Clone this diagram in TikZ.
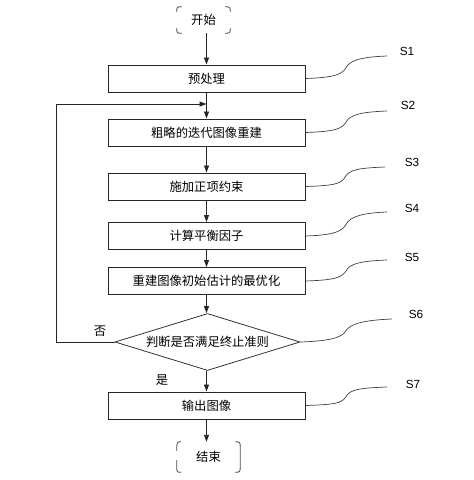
\documentclass[tikz,border=0pt]{standalone}
\usepackage{fontspec}
\setmainfont{Liberation Sans}
\newfontfamily\cjk{Noto Sans CJK SC}
\usetikzlibrary{arrows.meta,shapes.geometric,calc}
\newcommand{\squigline}[2]{\draw[squig] (#1) .. controls +(30,-1) and +(-4,7) .. ($(#1)!0.5!(#2)$) .. controls +(4,-7) and +(-26,1) .. (#2);}
\begin{document}
\begin{tikzpicture}[x=1pt,y=-1pt,
 stepbox/.style={draw=black!85, line width=1pt, minimum width=197pt, minimum height=27pt, inner sep=0pt, font=\cjk\fontsize{12.3}{13}\selectfont},
 term/.style={draw=none, inner sep=0pt, font=\cjk\fontsize{12.3}{13}\selectfont},
 termline/.style={draw=black!70, line width=0.8pt},
 dia/.style={draw=black!80, line width=0.8pt, shape=diamond, aspect=3.25, minimum width=185pt, minimum height=57pt, inner sep=0pt, font=\cjk\fontsize{12.3}{13}\selectfont},
 arr/.style={-{Triangle[length=7pt,width=5pt]}, line width=0.9pt, draw=black!85},
 lbl/.style={font=\fontsize{11.8}{12}\selectfont, inner sep=0pt},
 cjklbl/.style={font=\cjk\fontsize{12.3}{13}\selectfont, inner sep=0pt},
 squig/.style={draw=black!75, line width=0.7pt}]
\useasboundingbox (0,0) rectangle (474,480);

% terminals
\node[term, minimum width=53pt, minimum height=26pt] (st) at (203.5,20) {开始};
\node[term, minimum width=63pt, minimum height=30pt] (en) at (208.5,457) {结束};

% start corners
\draw[termline] ($(st.north west)+(0,5)$) .. controls (st.north west) .. ($(st.north west)+(5,0)$);
\draw[termline] ($(st.north east)+(-5,0)$) .. controls (st.north east) .. ($(st.north east)+(0,5)$);
\draw[termline] ($(st.south west)+(0,-5)$) .. controls (st.south west) .. ($(st.south west)+(5,0)$);
\draw[termline] ($(st.south east)+(-5,0)$) .. controls (st.south east) .. ($(st.south east)+(0,-5)$);
% end brackets
\draw[termline] ($(en.north west)+(4,0)$) .. controls (en.north west) .. ($(en.north west)+(0,9)$);
\draw[termline] ($(en.south west)+(0,-12)$) -- ($(en.south west)+(0,-6)$) .. controls (en.south west) .. ($(en.south west)+(4,0)$);
\draw[termline] ($(en.north east)+(-5,0)$) .. controls (en.north east) .. ($(en.north east)+(0,6)$) -- ($(en.south east)+(0,-6)$) .. controls (en.south east) .. ($(en.south east)+(-5,0)$);

% process boxes
\node[stepbox] (s1) at (206.5,78.5) {预处理};
\node[stepbox] (s2) at (206.5,132.5) {粗略的迭代图像重建};
\node[stepbox] (s3) at (206.5,186.5) {施加正项约束};
\node[stepbox] (s4) at (206.5,236) {计算平衡因子};
\node[stepbox] (s5) at (206.5,281) {重建图像初始估计的最优化};
\node[dia] (d6) at (207.5,342) {判断是否满足终止准则};
\node[stepbox] (s7) at (206.5,405.5) {输出图像};

% arrows
\draw[arr] (s1.north |- st.south) -- (s1.north);
\draw[arr] (s1.south) -- (s2.north);
\draw[arr] (s2.south) -- (s3.north);
\draw[arr] (s3.south) -- (s4.north);
\draw[arr] (s4.south) -- (s5.north);
\draw[arr] (s5.south) -- (s5.south |- d6.north);
\draw[arr] (s7.north |- d6.south) -- (s7.north);
\draw[arr] (s7.south) -- (s7.south |- en.north);

% loop back
\coordinate (j) at (206.5,104);
\coordinate (lp) at (56,104);
\draw[arr] (d6.west) -- (d6.west -| lp) -- (lp) -- (j);

\node[cjklbl] (no) at (100,331) {否};
\node[cjklbl] (yes) at (162,380) {是};

% step labels
\node[lbl] (l1) at (407,51) {S1};
\node[lbl] (l2) at (408,105) {S2};
\node[lbl] (l3) at (412,162) {S3};
\node[lbl] (l4) at (412,208) {S4};
\node[lbl] (l5) at (412,257) {S5};
\node[lbl] (l6) at (416,314) {S6};
\node[lbl] (l7) at (413,384) {S7};

\coordinate (c1) at (387,56);
\coordinate (c2) at (387,111);
\coordinate (c3) at (385,167);
\coordinate (c4) at (387,212);
\coordinate (c5) at (387,260);
\coordinate (c6) at (392,319);
\coordinate (c7) at (387,387);

\squigline{s1.east}{c1}
\squigline{s2.east}{c2}
\squigline{s3.east}{c3}
\squigline{s4.east}{c4}
\squigline{s5.east}{c5}
\squigline{d6.east}{c6}
\squigline{s7.east}{c7}
\end{tikzpicture}
\end{document}
